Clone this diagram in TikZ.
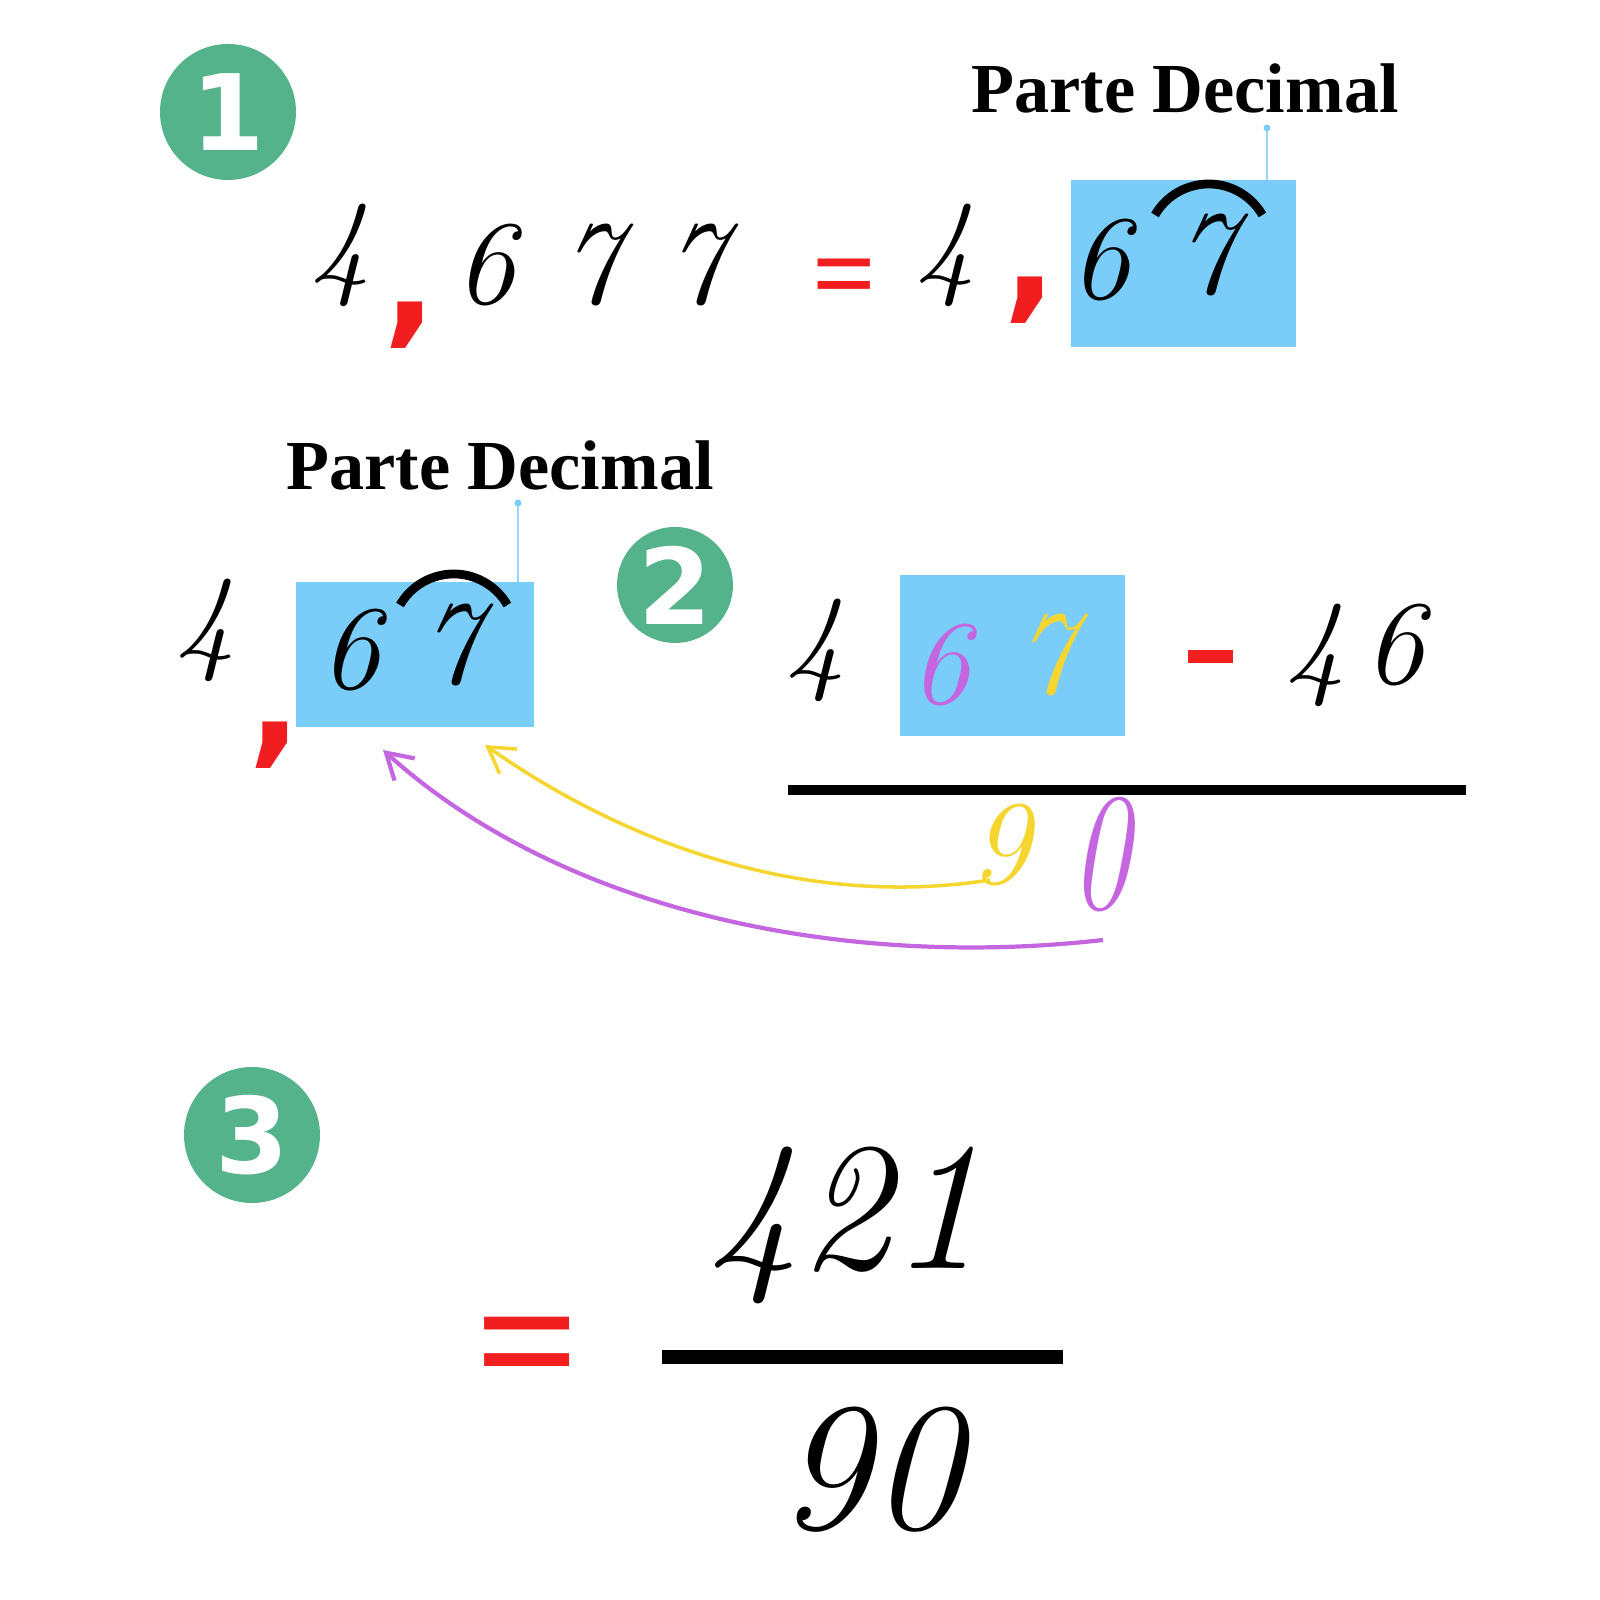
\documentclass[tikz,border=0pt]{standalone}
\usepackage{fontspec}
\setmainfont{Liberation Serif}
\newfontfamily\hand{Latin Modern Roman}
\newfontfamily\badgefont{DejaVu Sans}
\usetikzlibrary{positioning,arrows.meta}
\definecolor{stepgreen}{HTML}{55B38B}
\definecolor{boxblue}{HTML}{7BCDF9}
\definecolor{digred}{HTML}{F01E1E}
\definecolor{arryellow}{HTML}{F5D631}
\definecolor{arrpurple}{HTML}{C466E0}
\tikzset{
  badge/.style={circle,inner sep=0pt,fill=stepgreen,text=white,font=\badgefont\bfseries\fontsize{30}{30}\selectfont},
  dig/.style={font=\hand\itshape\fontsize{34}{34}\selectfont},
  bigdig/.style={font=\hand\itshape\fontsize{52}{52}\selectfont},
  redsym/.style={text=digred,font=\bfseries\fontsize{32}{32}\selectfont},
  redcomma/.style={text=digred,font=\badgefont\bfseries\fontsize{40}{40}\selectfont},
  label/.style={font=\bfseries\fontsize{20}{20}\selectfont},
  lead/.style={boxblue!80!white,line width=0.6pt}
}
\begin{document}
\begin{tikzpicture}
\useasboundingbox (0,0) rectangle (16,16);

% step badges
\node[badge,minimum size=1.36cm] (one) at (2.28,14.88) {1};
\node[badge,minimum size=1.16cm] (two) at (6.75,10.15) {2};
\node[badge,minimum size=1.36cm] (three) at (2.52,4.65) {3};

% row 1
\node[dig] (a4) at (3.40,13.45) {4};
\node[redcomma] (ac) at (4.10,12.75) {,};
\node[dig] (a6) at (4.85,13.35) {6};
\node[dig] (a7) at (5.90,13.35) {7};
\node[dig] (a7b) at (6.95,13.35) {7};
\node[redsym] (aeq) at (8.45,13.15) {=};
\node[dig] (b4) at (9.45,13.45) {4};
\node[redcomma] (bc) at (10.30,13.00) {,};
\fill[boxblue] (10.71,12.53) rectangle (12.96,14.20);
\node[dig] (b6) at (11.00,13.40) {6};
\node[dig] (b7) at (12.05,13.45) {7};
\draw[line width=2.5pt] (11.55,13.85) arc (150:30:0.62);
\draw[lead] (12.67,14.20) -- (12.67,14.72);
\fill[boxblue] (12.67,14.72) circle (0.035);
\node[label] (pd1) at (11.85,15.12) {Parte Decimal};

% row 2
\node[dig] (c4) at (2.05,9.70) {4};
\node[redcomma] (cc) at (2.75,8.55) {,};
\fill[boxblue] (2.96,8.73) rectangle (5.34,10.18);
\node[dig] (c6) at (3.50,9.50) {6};
\node[dig] (c7) at (4.50,9.55) {7};
\draw[line width=2.5pt] (4.00,9.95) arc (150:30:0.62);
\draw[lead] (5.18,10.18) -- (5.18,10.97);
\fill[boxblue] (5.18,10.97) circle (0.035);
\node[label] (pd2) at (5.00,11.35) {Parte Decimal};

% subtraction
\node[dig] (d4) at (8.15,9.50) {4};
\fill[boxblue] (9.00,8.64) rectangle (11.25,10.25);
\node[dig,text=arrpurple] (d6) at (9.40,9.35) {6};
\node[dig,text=arryellow] (d7) at (10.45,9.45) {7};
\node[fill=digred,minimum width=0.45cm,minimum height=0.13cm,inner sep=0pt] (dm) at (12.10,9.43) {};
\node[dig] (d46) at (13.55,9.45) {4\,6};
\draw[line width=3pt] (7.88,8.10) -- (14.66,8.10);
\node[dig,text=arryellow] (d9) at (10.00,7.55) {9};
\node[dig,text=arrpurple,yscale=1.4] (d0) at (11.00,7.45) {0};

% arrows back to the digits
\draw[arryellow,line width=1pt,-{Straight Barb[length=2.5mm,width=3mm]}] (9.90,7.20) .. controls (8.00,6.90) and (6.20,7.60) .. (4.85,8.55);
\draw[arrpurple,line width=1.2pt,-{Straight Barb[length=2.5mm,width=3mm]}] (11.03,6.60) .. controls (8.40,6.30) and (5.60,6.90) .. (3.83,8.50);

% result
\node[redsym,font=\bfseries\fontsize{52}{52}\selectfont] (req) at (5.28,2.40) {=};
\node[bigdig] (rnum) at (8.45,3.75) {421};
\draw[line width=4pt] (6.62,2.43) -- (10.63,2.43);
\node[bigdig] (rden) at (8.70,1.30) {90};
\end{tikzpicture}
\end{document}
